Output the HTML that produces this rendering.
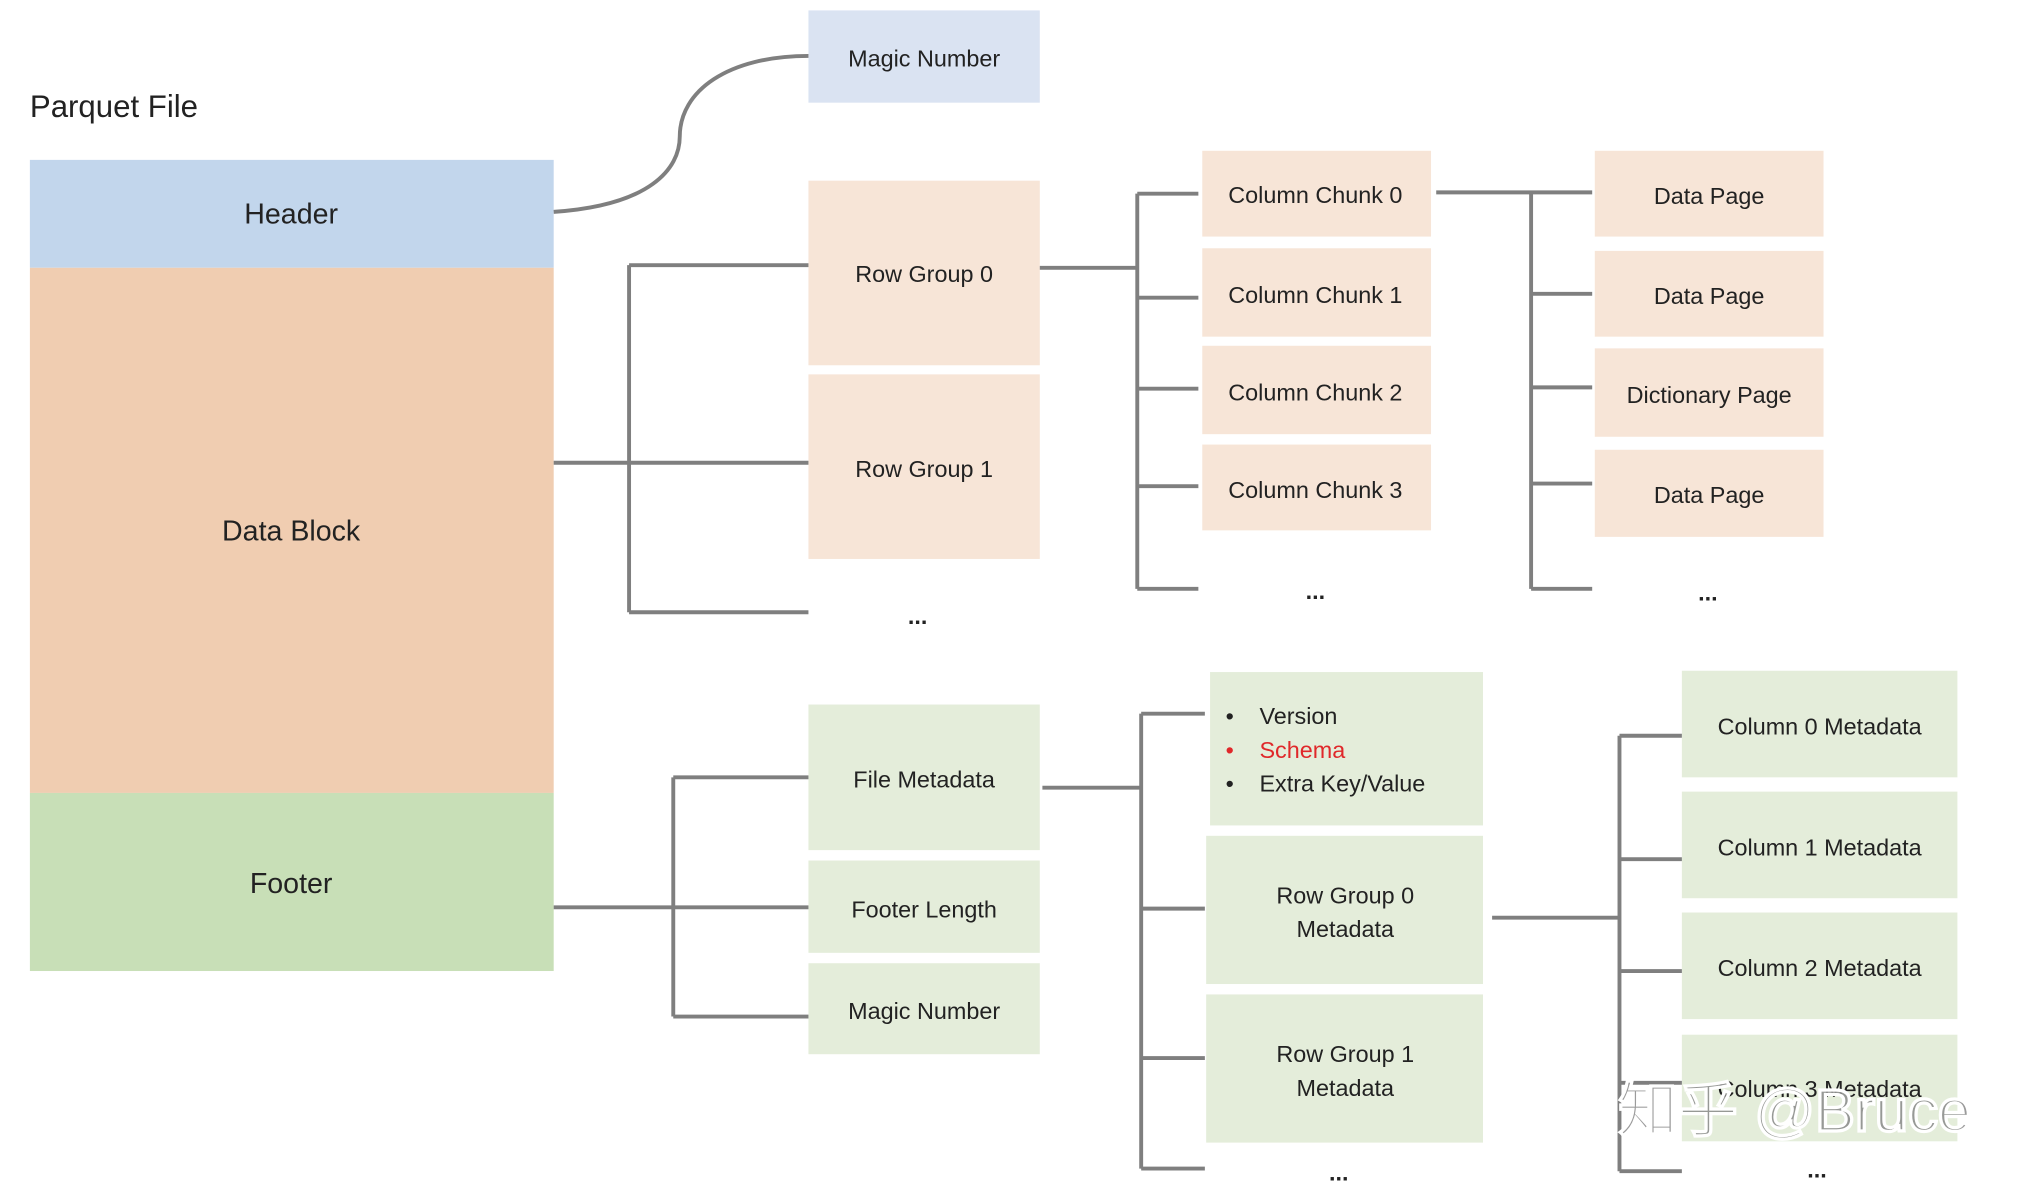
<!DOCTYPE html>
<html><head><meta charset="utf-8"><style>
html,body{margin:0;padding:0;background:#fff;width:2038px;height:1192px;overflow:hidden}
svg{display:block}
text{font-family:"Liberation Sans","Noto Sans CJK SC",sans-serif;fill:#222;font-size:18px}
.d{font-weight:bold}
</style></head><body>
<svg width="2038" height="1192" viewBox="0 0 1568 917" preserveAspectRatio="none">
<text x="23" y="90" style="font-size:24px">Parquet File</text>
<rect x="23" y="123" width="403" height="83" fill="#c2d6ec"/>
<rect x="23" y="206" width="403" height="404" fill="#f0cdb1"/>
<rect x="23" y="610" width="403" height="137" fill="#c8dfb7"/>
<text x="224" y="172" text-anchor="middle" style="font-size:22px">Header</text>
<text x="224" y="416" text-anchor="middle" style="font-size:22px">Data Block</text>
<text x="224" y="687" text-anchor="middle" style="font-size:22px">Footer</text>

<g fill="#f7e5d7">
<rect x="622" y="139" width="178" height="142"/><rect x="622" y="288" width="178" height="142"/>
<rect x="925" y="116" width="176" height="66"/><rect x="925" y="191" width="176" height="68"/>
<rect x="925" y="266" width="176" height="68"/><rect x="925" y="342" width="176" height="66"/>
<rect x="1227" y="116" width="176" height="66"/><rect x="1227" y="193" width="176" height="66"/>
<rect x="1227" y="268" width="176" height="68"/><rect x="1227" y="346" width="176" height="67"/>
</g>
<rect x="622" y="8" width="178" height="71" fill="#dae3f2"/>
<g fill="#e4edda">
<rect x="622" y="542" width="178" height="112"/><rect x="622" y="662" width="178" height="71"/>
<rect x="622" y="741" width="178" height="70"/>
<rect x="931" y="517" width="210" height="118"/><rect x="928" y="643" width="213" height="114"/>
<rect x="928" y="765" width="213" height="114"/>
<rect x="1294" y="516" width="212" height="82"/><rect x="1294" y="609" width="212" height="82"/>
<rect x="1294" y="702" width="212" height="82"/><rect x="1294" y="796" width="212" height="82"/>
</g>

<g stroke="#7f7f7f" stroke-width="3" fill="none">
<path d="M426 163 C500 158 523 130 523 105 C523 70 560 43 622 43"/>
<path d="M426 356H622M484 204V471M484 204H622M484 471H622"/>
<path d="M800 206H875M875 149V453M875 149H922M875 229H922M875 299H922M875 374H922M875 453H922"/>
<path d="M1105 148H1225M1178 148V453M1178 226H1225M1178 298H1225M1178 372H1225M1178 453H1225"/>
<path d="M426 698H622M518 598V782M518 598H622M518 782H622"/>
<path d="M802 606H878M878 549V899M878 549H927M878 699H927M878 814H927M878 899H927"/>
<path d="M1148 706H1246M1246 566V901M1246 566H1294M1246 661H1294M1246 747H1294M1246 833H1294M1246 901H1294"/>
</g>

<g text-anchor="middle">
<text x="711" y="51">Magic Number</text>
<text x="711" y="217">Row Group 0</text>
<text x="711" y="367">Row Group 1</text>
<text class="d" x="706" y="480">...</text>
<text x="1012" y="156">Column Chunk 0</text>
<text x="1012" y="233">Column Chunk 1</text>
<text x="1012" y="308">Column Chunk 2</text>
<text x="1012" y="383">Column Chunk 3</text>
<text class="d" x="1012" y="461">...</text>
<text x="1315" y="157">Data Page</text>
<text x="1315" y="234">Data Page</text>
<text x="1315" y="310">Dictionary Page</text>
<text x="1315" y="387">Data Page</text>
<text class="d" x="1314" y="462">...</text>
<text x="711" y="606">File Metadata</text>
<text x="711" y="706">Footer Length</text>
<text x="711" y="784">Magic Number</text>
<text x="1035" y="695">Row Group 0</text>
<text x="1035" y="721">Metadata</text>
<text x="1035" y="817">Row Group 1</text>
<text x="1035" y="843">Metadata</text>
<text class="d" x="1030" y="908">...</text>
<text x="1400" y="565">Column 0 Metadata</text>
<text x="1400" y="658">Column 1 Metadata</text>
<text x="1400" y="751">Column 2 Metadata</text>
<text x="1400" y="844">Column 3 Metadata</text>
<text class="d" x="1398" y="906">...</text>
</g>
<text x="943" y="557">•</text><text x="969" y="557">Version</text>
<text x="943" y="583" style="fill:#e0282a">•</text><text x="969" y="583" style="fill:#e0282a">Schema</text>
<text x="943" y="609">•</text><text x="969" y="609">Extra Key/Value</text>
<text x="1245" y="870" style="font-size:46px;fill:#8a8a8a;fill-opacity:0.85;stroke:#fff;stroke-width:2.5">知乎 @Bruce</text>
</svg>
</body></html>
